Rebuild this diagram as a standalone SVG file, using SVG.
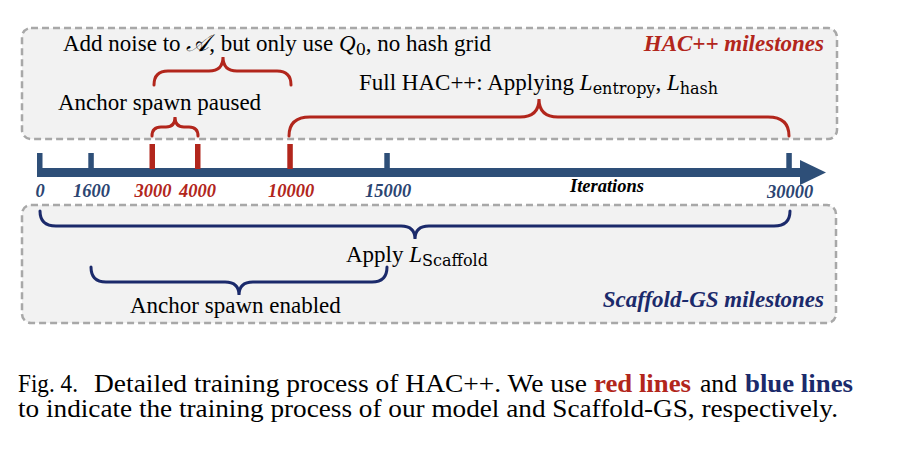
<svg xmlns="http://www.w3.org/2000/svg" width="900" height="456" viewBox="0 0 900 456">
<style>
.box{fill:#f2f2f2;stroke:#a8a8a8;stroke-width:2.5;stroke-dasharray:7 4}
.lbl{font-family:"Liberation Serif",serif;font-size:23px;fill:#000}
.mi{font-style:italic}
.sub{font-family:"DejaVu Serif",serif;font-size:16px}
.ms{font-family:"Liberation Serif",serif;font-size:23px;font-weight:bold;font-style:italic}
.tk{font-family:"Liberation Serif",serif;font-size:18.5px;font-weight:bold;font-style:italic;text-anchor:middle}
.red{fill:#b2261c}
.blu{fill:#2c4572}
.nav{fill:#1b2a6b}
.bR{fill:none;stroke:#b2261c;stroke-width:3;stroke-linecap:round}
.bB{fill:none;stroke:#1b2a6b;stroke-width:3;stroke-linecap:round}
.cap{font-family:"Liberation Serif",serif;font-size:25px}
.cb{font-weight:bold}
.k{fill:#000}
</style>
<rect width="900" height="456" fill="#fff"/>
<g id="hac-box">
<rect class="box" x="22" y="28" width="815" height="111" rx="9"/>
<text class="ms red" x="824" y="51" text-anchor="end">HAC++ milestones</text>
</g>
<g id="scaffold-box">
<rect class="box" x="22" y="205" width="814" height="118" rx="9"/>
<text class="ms nav" x="824" y="307" text-anchor="end">Scaffold-GS milestones</text>
</g>
<g id="axis">
<rect x="37" y="168" width="765" height="9" fill="#2e4f78"/>
<polygon points="800,160 826,172.5 800,185" fill="#2e4f78"/>
<rect x="37" y="153" width="5.5" height="16" fill="#2e4f78"/>
<rect x="88.3" y="153" width="5.5" height="16" fill="#2e4f78"/>
<rect x="384.3" y="153" width="5.5" height="16" fill="#2e4f78"/>
<rect x="786.3" y="153" width="5.5" height="16" fill="#2e4f78"/>
<rect x="149.5" y="144" width="5.5" height="25" fill="#b2261c"/>
<rect x="195" y="144" width="5.5" height="25" fill="#b2261c"/>
<rect x="287.3" y="144" width="5.5" height="25" fill="#b2261c"/>
<text class="tk blu" x="40" y="197">0</text>
<text class="tk blu" x="91.5" y="197">1600</text>
<text class="tk red" x="153" y="197">3000</text>
<text class="tk red" x="197.5" y="197">4000</text>
<text class="tk red" x="291" y="197">10000</text>
<text class="tk blu" x="388" y="197">15000</text>
<text class="tk blu" x="790" y="198">30000</text>
<text class="tk k" x="607" y="192" font-size="19.5">Iterations</text>
</g>
<g id="connectors">
<path class="bR" d="M154,85 Q154,71 168,71 L209,71 Q223,71 223,57 Q223,71 237,71 L277,71 Q291,71 291,85"/>
<path class="bR" d="M152,136 Q152,127 161,127 L166,127 Q175,127 175,117 Q175,127 184,127 L189,127 Q198,127 198,136"/>
<path class="bR" d="M289,136 Q289,117 310,117 L520,117 Q539,117 539,99 Q539,117 558,117 L768,117 Q789,117 789,136"/>
<path class="bB" d="M40,211 Q40,226 56,226 L401,226 Q415,226 415,239 Q415,226 429,226 L774,226 Q790,226 790,211"/>
<path class="bB" d="M91,267 Q91,282 106,282 L225,282 Q239,282 239,295 Q239,282 253,282 L372,282 Q387,282 387,267"/>
</g>
<g id="labels">
<text class="lbl" x="63" y="51">Add noise to <tspan font-family="'DejaVu Serif','Noto Sans',serif" font-style="italic" font-size="24">𝒜</tspan>, but only use <tspan class="mi">Q</tspan><tspan class="sub" dy="4">0</tspan><tspan dy="-4">, no hash grid</tspan></text>
<text class="lbl" x="58" y="110">Anchor spawn paused</text>
<text class="lbl" x="359" y="90">Full HAC++: Applying <tspan class="mi">L</tspan><tspan class="sub" dy="4">entropy</tspan><tspan dy="-4">, </tspan><tspan class="mi">L</tspan><tspan class="sub" dy="4">hash</tspan></text>
<text class="lbl" x="346" y="262">Apply <tspan class="mi">L</tspan><tspan class="sub" dy="4">Scaffold</tspan></text>
<text class="lbl" x="130" y="313">Anchor spawn enabled</text>
</g>
<g id="caption">
<text class="cap k" x="18" y="392" textLength="60" lengthAdjust="spacingAndGlyphs">Fig. 4.</text>
<text class="cap k" x="94" y="392" textLength="493" lengthAdjust="spacingAndGlyphs">Detailed training process of HAC++. We use</text>
<text class="cap cb red" x="594" y="392" textLength="97" lengthAdjust="spacingAndGlyphs">red lines</text>
<text class="cap k" x="700" y="392" textLength="37" lengthAdjust="spacingAndGlyphs">and</text>
<text class="cap cb nav" x="745" y="392" textLength="108" lengthAdjust="spacingAndGlyphs">blue lines</text>
<text class="cap k" x="18" y="417" textLength="820" lengthAdjust="spacingAndGlyphs">to indicate the training process of our model and Scaffold-GS, respectively.</text>
</g>
</svg>
